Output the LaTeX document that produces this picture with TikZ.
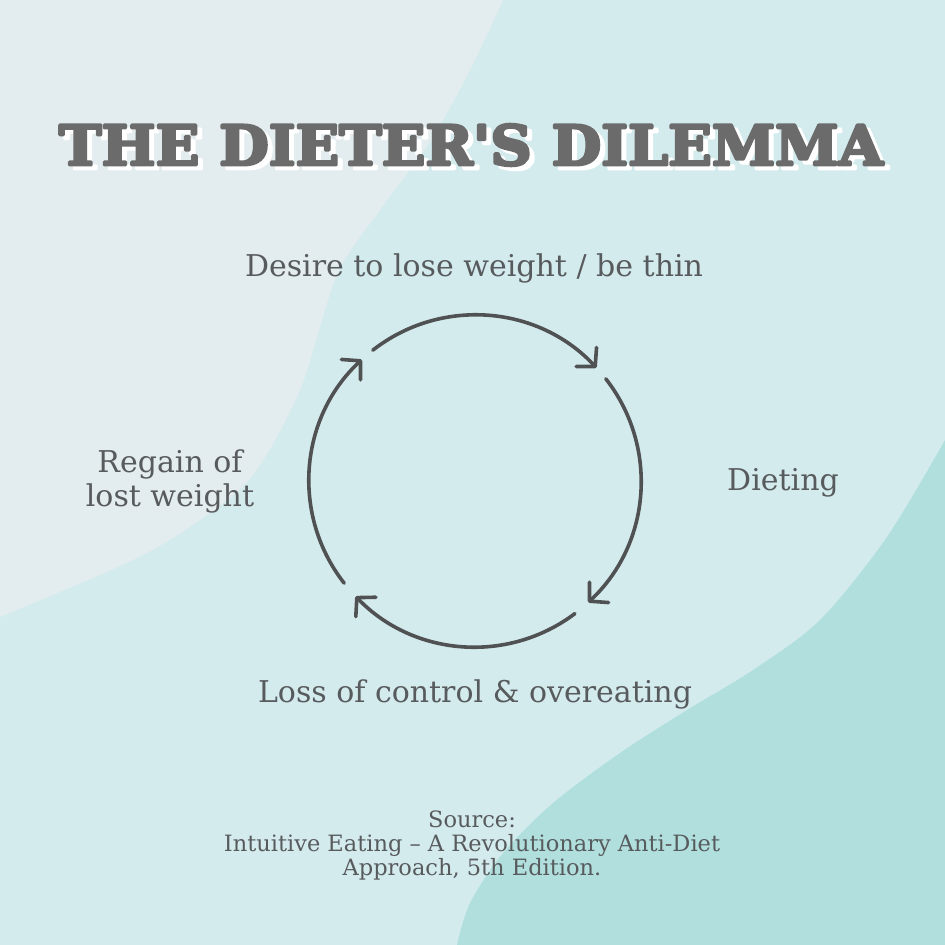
\documentclass[tikz,border=0pt]{standalone}
\usepackage{fontspec}
\usepackage{graphicx}
\setmainfont{DejaVu Serif}
\newfontfamily\titlefont{DejaVu Serif Bold}
\usetikzlibrary{arrows.meta}
\definecolor{bgmid}{HTML}{D4EBEE}
\definecolor{bgleft}{HTML}{E3ECEE}
\definecolor{bgteal}{HTML}{B0DFDD}
\definecolor{ink}{HTML}{585B5D}
\definecolor{loopink}{HTML}{4F5153}
\definecolor{titleink}{HTML}{6B6B6B}
\newcommand{\heavy}[1]{\special{pdf:literal direct 2 Tr 0.5 w 1 j}#1\special{pdf:literal direct 0 Tr}}
\newcommand{\titletext}{\resizebox{824pt}{41pt}{\titlefont\heavy{THE DIETER'S DILEMMA}}}
\begin{document}
\begin{tikzpicture}[x=1pt, y=-1pt,
    lbl/.style={text=ink, font=\fontsize{30}{34}\selectfont, align=center, inner sep=0pt},
    srclbl/.style={text=ink, font=\fontsize{22.5}{24}\selectfont, align=center, inner sep=0pt},
    heading/.style={inner sep=0pt},
    loop/.style={draw=loopink, line width=3.6pt, line cap=round,
        -{Straight Barb[length=13pt, width=28pt, round]}}]
    \useasboundingbox (0,0) rectangle (945,945);
    \fill[bgmid] (0,0) rectangle (945,945);
    \fill[bgleft] (0,0) -- plot[smooth] coordinates {(503,0) (470,70) (430,142) (380,210) (337,275) (300,390) (253,475) (200,520) (133,560) (0,617)} -- cycle;
    \fill[bgteal] (945,945) -- plot[smooth] coordinates {(945,440) (887,537) (820,620) (753,670) (687,710) (620,753) (553,803) (503,853) (470,903) (457,945)} -- cycle;
    % title with a white shadow
    \node[heading, text=white] (shadow) at (476,149) {\titletext};
    \node[heading, text=titleink] (title) at (471,145) {\titletext};
    % labels
    \node[lbl] (desire) at (474,268) {Desire to lose weight / be thin};
    \node[lbl] (diet) at (783,483) {Dieting};
    \node[lbl] (regain) at (170,481) {Regain of\\lost weight};
    \node[lbl] (loss) at (475,694) {Loss of control \& overeating};
    \node[srclbl] (src) at (472,845) {Source:\\Intuitive Eating -- A Revolutionary Anti-Diet\\Approach, 5th Edition.};
    % the loop
    \coordinate (c) at (475,481);
    \draw[loop] ([shift={(-128:166)}]c) arc[start angle=-128, end angle=-43, radius=166];
    \draw[loop] ([shift={(-38:166)}]c) arc[start angle=-38, end angle=47, radius=166];
    \draw[loop] ([shift={(53:166)}]c) arc[start angle=53, end angle=136, radius=166];
    \draw[loop] ([shift={(142:166)}]c) arc[start angle=142, end angle=227, radius=166];
\end{tikzpicture}
\end{document}
